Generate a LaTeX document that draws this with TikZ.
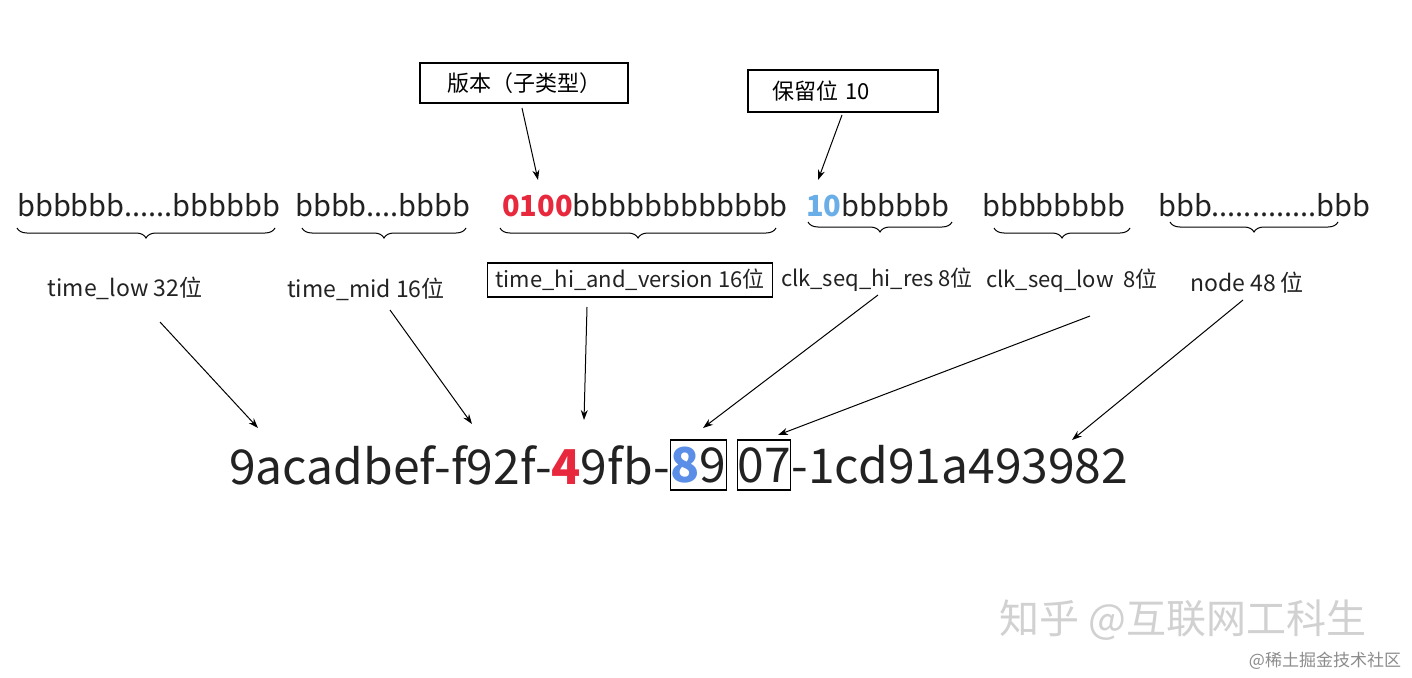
\documentclass[tikz,border=0pt]{standalone}
\usepackage{fontspec}
\setmainfont{Noto Sans CJK SC}
\usetikzlibrary{decorations.pathreplacing,arrows.meta}
\definecolor{vred}{HTML}{E8283C}
\definecolor{vblue}{HTML}{5B8EE6}
\definecolor{lblue}{HTML}{6AAEE8}
\definecolor{ink}{HTML}{222222}
\tikzset{
 bits/.style={font=\fontsize{29}{32}\selectfont,inner sep=0,anchor=west,text=ink},
 lbl/.style={font=\fontsize{23}{26}\selectfont,inner sep=0,text=ink},
 brc/.style={decorate,decoration={brace,mirror,amplitude=10pt},line width=1pt},
 arr/.style={-{Stealth[length=10pt,width=7pt]},line width=1pt},
 tbox/.style={draw,line width=1.2pt,minimum height=40pt,font=\fontsize{22}{24}\selectfont},
 big/.style={font=\fontsize{48}{54}\selectfont,inner sep=0,text=ink},
 ubox/.style={big,draw,line width=1.2pt,minimum height=50pt,text depth=0pt}
}
\begin{document}
\begin{tikzpicture}[x=1pt,y=-1pt]
\useasboundingbox[fill=white] (0,0) rectangle (1412,677);
\node[tbox,minimum width=208pt] (ver) at (524,83) {版本（子类型）};
\node[tbox,minimum width=190pt,minimum height=42pt,text width=170pt,align=left] (res) at (843,91) {\hspace*{14pt}保留位 10};
\node[bits] (b1) at (17,205) {bbbbbb......bbbbbb};
\node[bits] (b2) at (295,205) {bbbb....bbbb};
\node[bits] (b3) at (502,205) {\textcolor{vred}{\textbf{0100}}bbbbbbbbbbbb};
\node[bits] (b4) at (806,205) {\textcolor{lblue}{\textbf{10}}bbbbbb};
\node[bits] (b5) at (982,205) {bbbbbbbb};
\node[bits] (b6) at (1158,205) {bbb.............bbb};
\draw[brc] (17,228) -- (275,228);
\draw[brc] (302,228) -- (466,228);
\draw[brc] (500,228) -- (776,228);
\draw[brc] (808,222) -- (952,222);
\draw[brc] (994,228) -- (1130,228);
\draw[brc] (1170,222) -- (1338,222);
\draw[arr] (522,108) coordinate (va) -- (538,180) coordinate (vb);
\draw[arr] (842,115) coordinate (ra) -- (818,180) coordinate (rb);
\node[lbl] (l1) at (125,288) {time\_low 32位};
\node[lbl] (l2) at (366,289) {time\_mid 16位};
\node[lbl,draw,line width=1.2pt,inner xsep=8pt,minimum height=34pt,font=\fontsize{22}{24}\selectfont] (l3) at (630,280) {time\_hi\_and\_version 16位};
\node[lbl,font=\fontsize{22}{24}\selectfont] (l4) at (877,280) {clk\_seq\_hi\_res 8位};
\node[lbl,font=\fontsize{22}{24}\selectfont] (l5) at (1072,281) {clk\_seq\_low~ 8位};
\node[lbl] (l6) at (1247,283) {node 48 位};
\node[big,anchor=east] (u1) at (670,465) {9acadbef-f92f-\textcolor{vred}{\textbf{4}}9fb-};
\node[ubox,minimum width=56pt,anchor=west] (u2) at (670,465) {\textcolor{vblue}{\textbf{8}}9};
\node[ubox,minimum width=51pt,anchor=west] (u3) at (737,465) {07};
\node[big,anchor=west] (u4) at (u3.east) {-1cd91a493982};
\coordinate (t1) at (258,428); \coordinate (t2) at (472,424); \coordinate (t3) at (584,420);
\coordinate (t4) at (703,428); \coordinate (t5) at (778,435); \coordinate (t6) at (1072,440);
\coordinate (s1) at (160,322); \coordinate (s2) at (390,310); \coordinate (s3) at (587,307);
\coordinate (s4) at (878,295); \coordinate (s5) at (1090,316); \coordinate (s6) at (1243,300);
\foreach \i in {1,...,6} \draw[arr] (s\i) -- (t\i);
\node[font=\fontsize{40}{42}\selectfont,text=black!18,inner sep=0] (wm) at (1183,620) {知乎 @互联网工科生};
\node[font=\fontsize{17}{19}\selectfont,text=black!45,inner sep=0] (wm2) at (1325,661) {@稀土掘金技术社区};
\end{tikzpicture}
\end{document}
